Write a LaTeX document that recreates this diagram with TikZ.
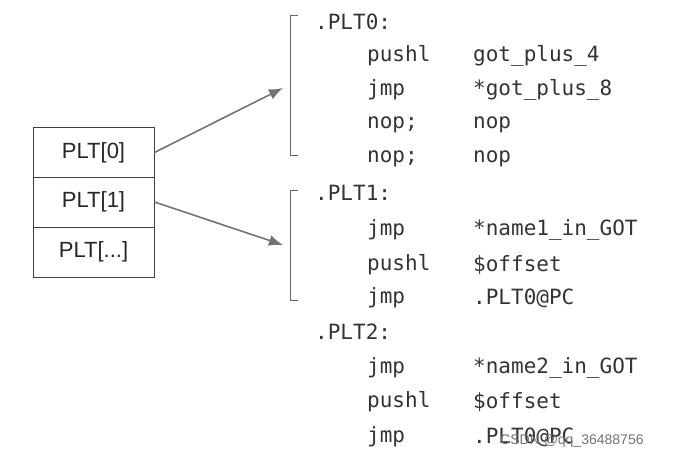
\documentclass[tikz,border=0pt]{standalone}
\usepackage{fontspec}
\usetikzlibrary{arrows.meta}
\setmainfont{Liberation Sans}
\newfontfamily\codefont{DejaVu Sans Mono}
\begin{document}
\begin{tikzpicture}[x=1pt,y=-1pt,
  box/.style={draw=black!75,line width=1pt,minimum width=121pt,minimum height=50pt,inner sep=0,font=\fontsize{22}{26}\selectfont,text=black!85},
  code/.style={anchor=west,inner sep=0,font=\codefont\fontsize{21}{25}\selectfont,text=black!80},
  arr/.style={draw=black!55,line width=1.6pt,-{Latex[length=14pt,width=11pt]}},
  brk/.style={draw=black!60,line width=1pt}]
\useasboundingbox (0,0) rectangle (684,459);
\node[box] (p0) at (93.5,152.5) {PLT[0]};
\node[box] (p1) at (93.5,202) {PLT[1]};
\node[box] (p2) at (93.5,252) {PLT[...]};
\coordinate (b1) at (290,15); \coordinate (b1e) at (290,155);
\coordinate (b2) at (290,190); \coordinate (b2e) at (290,300);
\draw[brk] (298,15) -- (b1) -- (b1e) -- (298,155);
\draw[brk] (298,190) -- (b2) -- (b2e) -- (298,300);
\coordinate (t1) at (283,88); \coordinate (t2) at (283,245);
\draw[arr] (p0.east) -- (t1);
\draw[arr] (p1.east) -- (t2);
\foreach \y/\a/\b [count=\i] in {
 22/.PLT0:/,56/pushl/got\_plus\_4,90/jmp/*got\_plus\_8,125/nop;/nop,159/nop;/nop,
 193/.PLT1:/,230/jmp/*name1\_in\_GOT,265/pushl/\$offset,298/jmp/.PLT0@PC,
 332/.PLT2:/,368/jmp/*name2\_in\_GOT,402/pushl/\$offset,437/jmp/.PLT0@PC}{
  \ifnum\pdfstrcmp{\b}{}=0
    \node[code] (l\i) at (315,\y) {\a};
  \else
    \node[code] (l\i) at (367,\y) {\a};
    \node[code] (r\i) at (473,\y) {\b};
  \fi
}
\node[anchor=west,inner sep=0,font=\fontsize{14}{16}\selectfont,text=black!55] (wm) at (500,441) {CSDN @qq\_36488756};
\end{tikzpicture}
\end{document}
